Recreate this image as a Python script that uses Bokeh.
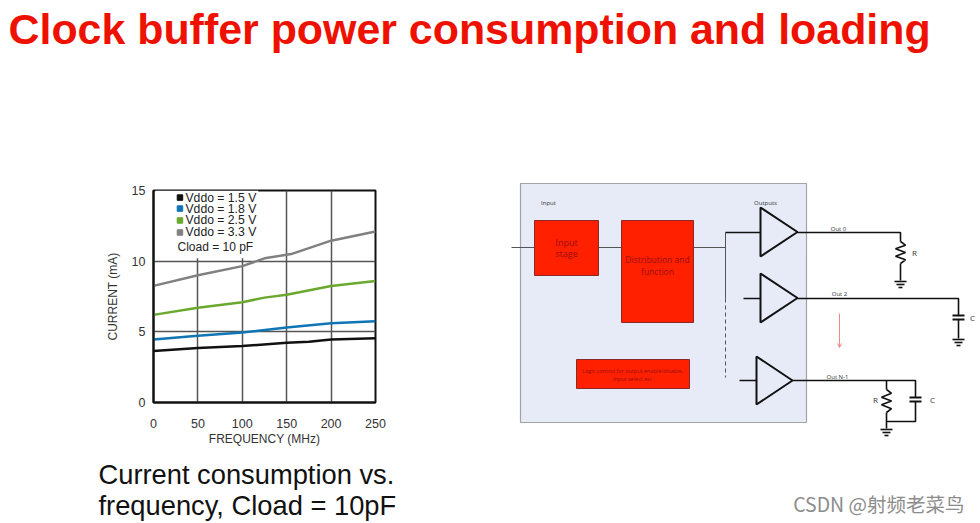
from bokeh.core.properties import value
from bokeh.embed import file_html
from bokeh.layouts import column, row
from bokeh.models import BoxAnnotation, Label, Range1d
from bokeh.plotting import figure
from bokeh.resources import INLINE

# chart values
freq_black = [0, 50, 100, 150, 175, 200, 250]
cur_black = [3.65, 3.85, 4.0, 4.22, 4.3, 4.45, 4.55]
freq_blue = [0, 50, 100, 150, 200, 250]
cur_blue = [4.45, 4.72, 4.95, 5.3, 5.6, 5.75]
freq_green = [0, 50, 100, 125, 150, 200, 250]
cur_green = [6.2, 6.7, 7.1, 7.42, 7.62, 8.25, 8.6]
freq_gray = [0, 50, 100, 125, 155, 200, 250]
cur_gray = [8.25, 9.0, 9.65, 10.2, 10.5, 11.45, 12.1]
series_names = ["Vddo = 1.5 V", "Vddo = 1.8 V", "Vddo = 2.5 V", "Vddo = 3.3 V"]
series_colors = ["#111111", "#0f75b5", "#6aa82f", "#808080"]
x_ticks = [0, 50, 100, 150, 200, 250]
y_ticks = [0, 5, 10, 15]

TITLE = "Clock buffer power consumption and loading"
CAPTION = ["Current consumption vs.", "frequency, Cload = 10pF"]
FONT = "Liberation Sans"

# title strip
top = figure(width=980, height=58, output_backend="svg", toolbar_location=None,
             x_range=(0, 980), y_range=(0, 58), min_border=0)
top.axis.visible = False
top.grid.visible = False
top.outline_line_color = None
top.add_layout(Label(x=8, y=30, text=TITLE, text_font=FONT, text_font_style="bold",
                     text_font_size="42.9px", text_color="#ee1100", text_baseline="middle"))

# current vs frequency chart
p = figure(width=510, height=394, output_backend="svg", toolbar_location=None,
           x_range=Range1d(0, 250), y_range=Range1d(0, 15),
           x_axis_label="FREQUENCY (MHz)", y_axis_label="CURRENT (mA)",
           min_border_left=153, min_border_right=135, min_border_top=132, min_border_bottom=50)
p.xaxis.ticker = x_ticks
p.yaxis.ticker = y_ticks
p.axis.major_tick_line_color = None
p.axis.minor_tick_line_color = None
p.axis.major_tick_out = 0
p.axis.axis_line_color = "#111111"
p.axis.axis_line_width = 2
p.axis.major_label_text_font = FONT
p.axis.major_label_text_font_size = "12.5px"
p.axis.major_label_text_color = "#333333"
p.axis.axis_label_text_font = FONT
p.axis.axis_label_text_font_size = "12px"
p.axis.axis_label_text_font_style = "normal"
p.axis.axis_label_text_color = "#333333"
p.xaxis.major_label_standoff = 16
p.yaxis.major_label_standoff = 8
p.xaxis.axis_label_standoff = 1
p.yaxis.axis_label_standoff = 9
p.grid.grid_line_color = "#555555"
p.grid.grid_line_width = 1.5
p.outline_line_color = "#111111"
p.outline_line_width = 2

# white patch behind the legend hides the grid there
p.add_layout(BoxAnnotation(left=2, right=118, bottom=10.2, top=15, fill_color="white",
                           fill_alpha=1, line_color=None, level="underlay"))

all_series = [(freq_black, cur_black), (freq_blue, cur_blue), (freq_green, cur_green), (freq_gray, cur_gray)]
for (xs, ys), col in zip(all_series, series_colors):
    p.line(xs, ys, line_width=2.5, line_color=col)

# legend by hand, a real Legend will not pack its rows this tight
legend_rows = [14.5, 13.72, 12.88, 12.03]
for row_y, name, col in zip(legend_rows, series_names, series_colors):
    p.scatter([29.8], [row_y], marker="square", size=5.5, color=col)
    p.add_layout(Label(x=36, y=row_y, text=name, text_font=FONT, text_font_size="12.2px",
                       text_color="#222222", text_baseline="middle"))
p.add_layout(Label(x=27, y=10.97, text="Cload = 10 pF", text_font=FONT, text_font_size="12px",
                   text_color="#222222", text_baseline="middle"))

# caption under the chart
cap_fig = figure(width=510, height=71, output_backend="svg", toolbar_location=None,
                 x_range=Range1d(0, 510), y_range=Range1d(523, 452), min_border=0)
cap_fig.axis.visible = False
cap_fig.grid.visible = False
cap_fig.outline_line_color = None
cap_fig.text([98, 98], [474, 505], CAPTION, text_font=value(FONT), text_font_size=value("27.3px"),
             text_color="#111111", text_baseline="middle")

# block diagram, drawn in its own frame
d = figure(width=470, height=465, output_backend="svg", toolbar_location=None,
           x_range=Range1d(510, 980), y_range=Range1d(523, 58), min_border=0)
d.axis.visible = False
d.grid.visible = False
d.outline_line_color = None

SCHEM_FONT = "Open Sans"


def wire(xs, ys, width=1.6, color="#111111", dash="solid"):
    d.line(xs, ys, line_width=width, line_color=color, line_dash=dash)


def buffer_amp(left, top_y, bottom_y, tip):
    mid = (top_y + bottom_y) / 2
    d.patch([left, tip, left], [top_y, mid, bottom_y], fill_alpha=0, line_color="#111111", line_width=2)


def ground(x, y):
    for half, dy in [(6, 0), (4, 3), (2, 6)]:
        wire([x - half, x + half], [y + dy, y + dy], 1.6)


def resistor(x, y0, y1):
    step = (y1 - y0) / 6
    xs = [x, x + 5, x - 5, x + 5, x - 5, x + 5, x]
    wire(xs, [y0 + i * step for i in range(7)], 1.6)


def cap(x, y0, y1):
    wire([x - 6, x + 6], [y0, y0], 2)
    wire([x - 6, x + 6], [y1, y1], 2)


def text(x, y, s, size, color="#333333", align="center", font=SCHEM_FONT):
    d.text([x], [y], [s], text_font=value(font), text_font_size=value(size), text_color=color,
           text_align=align, text_baseline="middle")


def block(left, right, top_y, bottom_y):
    d.quad(left=[left], right=[right], top=[top_y], bottom=[bottom_y], fill_color="#ff2000",
           line_color="#8a2a22", line_width=1)


d.quad(left=[520], right=[806], top=[183], bottom=[422], fill_color="#e6ebf7", line_color="#a0a4a8", line_width=1.2)

# input path
wire([511, 534], [247, 247], 1, "#555555")
wire([598, 621], [247, 247], 1, "#555555")
wire([693, 725], [247, 247], 1, "#555555")
block(534, 598, 220, 275)
block(621, 693, 220, 322)
block(576, 689, 359, 388)
text(548, 202, "Input", "6px")
text(566, 242, "Input", "9px", "#990f0f")
text(566, 253, "stage", "9px", "#990f0f")
text(657, 259, "Distribution and", "8.5px", "#990f0f")
text(657, 271, "function", "8.5px", "#990f0f")
text(632, 370, "Logic control for output enable/disable,", "5.5px", "#990f0f")
text(632, 378, "input select etc", "5.5px", "#990f0f")
text(765, 202, "Outputs", "6px")

# fan-out rail
wire([725, 725], [232, 298], 1, "#555555")
wire([725, 725], [298, 377], 1, "#555555", [4, 3])
wire([725, 760], [232, 232])

# buffers and loads
buffer_amp(760, 207, 256, 797)
buffer_amp(760, 273, 322, 797)
buffer_amp(756, 356, 404, 792)
wire([743, 760], [298, 298])
wire([739, 756], [380, 380])

wire([797, 900, 900], [232, 232, 241])
resistor(900, 241, 263)
wire([900, 900], [263, 280])
ground(900, 281)
text(914, 252, "R", "8px")
text(838, 228, "Out 0", "6px")

wire([797, 958, 958], [298, 298, 315])
cap(958, 315, 319)
wire([958, 958], [319, 338])
ground(958, 339)
text(972, 317, "C", "8px")
text(839, 293, "Out 2", "6px")

wire([792, 915, 915], [380, 380, 397])
cap(915, 397, 401)
wire([915, 915, 886], [401, 421, 421])
wire([886, 886], [380, 389])
resistor(886, 389, 412)
wire([886, 886], [412, 428])
ground(886, 429)
text(875, 399, "R", "8px")
text(932, 399, "C", "8px")
text(837, 376, "Out N-1", "6px")

# thin red marker arrow between the outputs
wire([839, 839], [313, 346], 1, "#f08a80")
wire([837, 839, 841], [343, 347, 343], 1, "#f08a80")

text(964, 503, "CSDN @射频老菜鸟", "19.5px", "#8c8c8c", "right", "Noto Sans CJK SC")

layout = column(top, row(column(column(p), column(cap_fig)), column(d)))
open("out.html", "w").write(file_html(layout, INLINE))
